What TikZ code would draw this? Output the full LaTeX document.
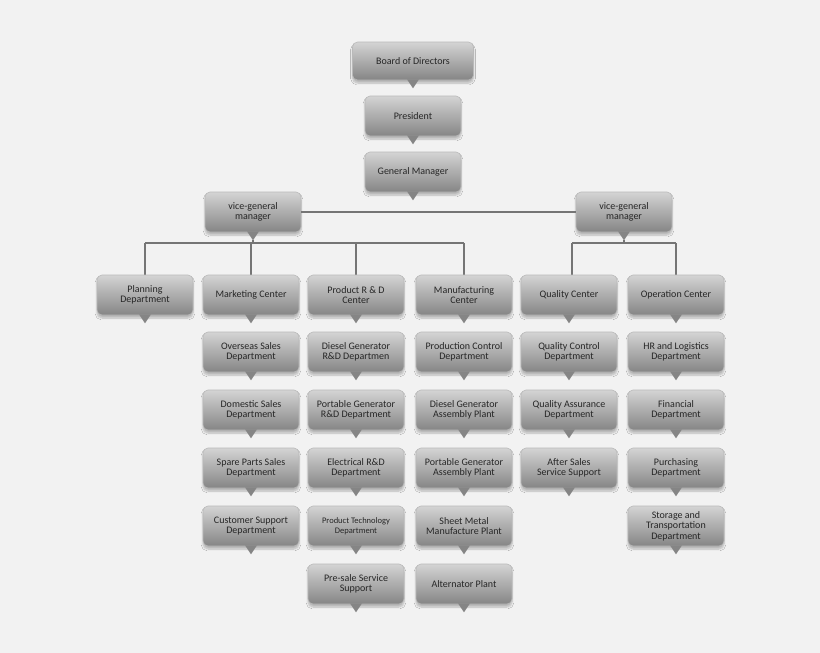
\documentclass[tikz,border=0pt]{standalone}
\usepackage{fontspec}
\setmainfont{Carlito}
\usetikzlibrary{shadows.blur}
\definecolor{bgc}{HTML}{F2F2F2}
\definecolor{topc}{HTML}{D4D4D4}
\definecolor{botc}{HTML}{858585}
\definecolor{linec}{HTML}{757575}
\tikzset{
 orgbox/.style={rounded corners=5pt, draw=gray!55, line width=0.6pt, top color=topc, bottom color=botc,
   minimum width=96pt, minimum height=40pt, align=center, font=\fontsize{10}{10.5}\selectfont, text=black!85,
   inner sep=1pt, blur shadow={shadow xshift=0pt, shadow yshift=-3pt, shadow opacity=25, shadow blur steps=6}},
 wide/.style={minimum width=121pt, minimum height=38pt},
 small/.style={font={\fontsize{8.5}{9.5}\selectfont}},
 conn/.style={draw=linec, line width=2pt},
}
\newcommand{\bx}[1]{%
  \fill[botc] ([xshift=-6pt,yshift=1pt]#1.south) -- ([xshift=6pt,yshift=1pt]#1.south) -- ([yshift=-8pt]#1.south) -- cycle;
}
\newcommand{\mk}[5][]{\node[orgbox,#1] (#2) at (#3pt,-#4pt) {#5};\bx{#2}}
\begin{document}
\begin{tikzpicture}[x=1pt,y=1pt]
\fill[bgc] (0,0) rectangle (820,-653);
\useasboundingbox (0,0) rectangle (820,-653);
\coordinate (lb1) at (145,-243); \coordinate (lb2) at (464,-243);
\coordinate (rb1) at (572,-243); \coordinate (rb2) at (676,-243);
\mk[wide]{bod}{413}{61}{Board of Directors}
\mk{pres}{413}{116}{President}
\mk{gm}{413}{172}{General Manager}
\mk{vgl}{253}{212}{vice-general\\manager}
\mk{vgr}{624}{212}{vice-general\\manager}
\draw[conn] (vgl.east) -- (vgr.west);
\draw[conn] (lb1) -- (lb2);
\draw[conn] (rb1) -- (rb2);
\draw[conn] ([yshift=-8pt]vgl.south) -- (253,-243);
\draw[conn] ([yshift=-8pt]vgr.south) -- (624,-243);
\draw[conn] (lb1) -- (145,-275);
\draw[conn] (251,-243) -- (251,-275);
\draw[conn] (356,-243) -- (356,-275);
\draw[conn] (lb2) -- (464,-275);
\draw[conn] (rb1) -- (572,-275);
\draw[conn] (rb2) -- (676,-275);
\mk{plan}{145}{295}{Planning\\Department}
\mk{mkt}{251}{295}{Marketing Center}
\mk{prd}{356}{295}{Product R \& D\\Center}
\mk{man}{464}{295}{Manufacturing\\Center}
\mk{qc}{569}{295}{Quality Center}
\mk{op}{676}{295}{Operation Center}
\mk{m1}{251}{352}{Overseas Sales\\Department}
\mk{m2}{251}{410}{Domestic Sales\\Department}
\mk{m3}{251}{468}{Spare Parts Sales\\Department}
\mk{m4}{251}{526}{Customer Support\\Department}
\mk{p1}{356}{352}{Diesel Generator\\R\&D Departmen}
\mk{p2}{356}{410}{Portable Generator\\R\&D Department}
\mk{p3}{356}{468}{Electrical R\&D\\Department}
\mk[small]{p4}{356}{526}{Product Technology\\Department}
\mk{p5}{356}{584}{Pre-sale Service\\Support}
\mk{f1}{464}{352}{Production Control\\Department}
\mk{f2}{464}{410}{Diesel Generator\\Assembly Plant}
\mk{f3}{464}{468}{Portable Generator\\Assembly Plant}
\mk{f4}{464}{526}{Sheet Metal\\Manufacture Plant}
\mk{f5}{464}{584}{Alternator Plant}
\mk{q1}{569}{352}{Quality Control\\Department}
\mk{q2}{569}{410}{Quality Assurance\\Department}
\mk{q3}{569}{468}{After Sales\\Service Support}
\mk{o1}{676}{352}{HR and Logistics\\Department}
\mk{o2}{676}{410}{Financial\\Department}
\mk{o3}{676}{468}{Purchasing\\Department}
\mk{o4}{676}{526}{Storage and\\Transportation\\Department}
\end{tikzpicture}
\end{document}
